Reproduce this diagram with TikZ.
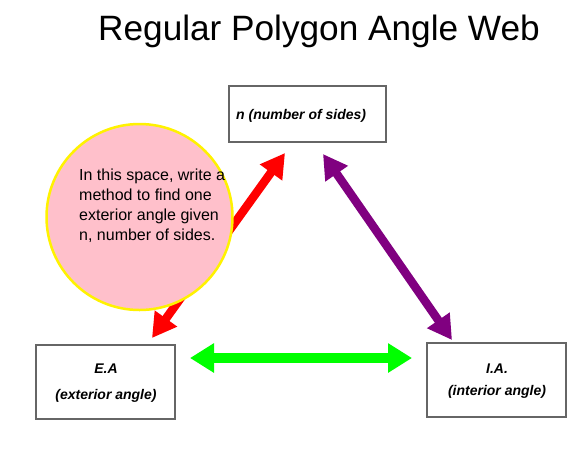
\documentclass[tikz,border=0pt]{standalone}
\usepackage{fontspec}
\setmainfont{Liberation Sans}
\usetikzlibrary{arrows.meta}
\definecolor{boxgray}{HTML}{666666}
\definecolor{pinkfill}{HTML}{FFC0CB}
\definecolor{purp}{HTML}{800080}
\definecolor{lgreen}{HTML}{00FF00}
\tikzset{
  webbox/.style={draw=boxgray, line width=1.6pt, fill=white, rectangle, inner sep=0pt},
  boxtext/.style={font=\fontsize{14}{16}\selectfont\bfseries\itshape, inner sep=0pt},
  bigarrow/.style={line width=8.5pt, {Triangle[length=24pt,width=26pt]}-{Triangle[length=24pt,width=26pt]}}
}
\begin{document}
\begin{tikzpicture}[x=1pt,y=-1pt]
\useasboundingbox (0,0) rectangle (588,451);
% title
\node[anchor=base, inner sep=0pt, font=\fontsize{35.2}{38}\selectfont] (title) at (319,40) {Regular Polygon Angle Web};
% boxes
\node[webbox, minimum width=157pt, minimum height=56pt] (nbox) at (307.5,114) {};
\node[boxtext, anchor=base west] (ntext) at (236,119) {n (number of sides)};
\node[webbox, minimum width=139pt, minimum height=74pt] (eabox) at (105.5,382) {};
\node[boxtext, anchor=base] (eatext) at (106,373) {E.A};
\node[boxtext, anchor=base] (eatext2) at (106,399) {(exterior angle)};
\node[webbox, minimum width=139pt, minimum height=74pt] (iabox) at (496.5,380) {};
\node[boxtext, anchor=base] (iatext) at (497,373) {I.A.};
\node[boxtext, anchor=base] (iatext2) at (497,395) {(interior angle)};
% arrow end points
\coordinate (redA) at (152,338);
\coordinate (redB) at (285,153);
\coordinate (purA) at (323,154);
\coordinate (purB) at (452,340);
\coordinate (grnA) at (190,358);
\coordinate (grnB) at (412,358);
\draw[bigarrow, red] (redA) -- (redB);
\draw[bigarrow, purp] (purA) -- (purB);
\draw[bigarrow, lgreen, line width=10pt, {Triangle[length=24pt,width=28pt]}-{Triangle[length=24pt,width=28pt]}] (grnA) -- (grnB);
% circle
\node[circle, draw=yellow, line width=2.5pt, fill=pinkfill, minimum size=186pt, inner sep=0pt] (note) at (139.5,217) {};
\node[anchor=base west, align=left, inner sep=0pt, font=\fontsize{16}{20}\selectfont] (notetext) at (79,240) {In this space, write a\\method to find one\\exterior angle given\\n, number of sides.};
\end{tikzpicture}
\end{document}
